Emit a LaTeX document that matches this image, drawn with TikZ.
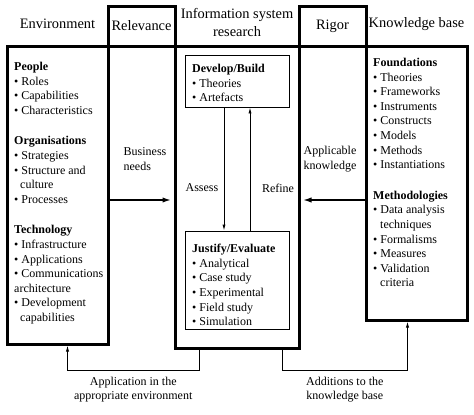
\documentclass[tikz,border=0pt]{standalone}
\usepackage{fontspec}
\setmainfont{Liberation Serif}
\usetikzlibrary{positioning, arrows.meta}

\begin{document}
\begin{tikzpicture}[
    x=1pt, y=-1pt,
    bigbox/.style={draw, line width=3pt, inner sep=0pt},
    smallbox/.style={draw, line width=0.9pt, inner sep=0pt},
    header/.style={font=\fontsize{14.4}{18}\selectfont, align=center, inner sep=0pt},
    listtext/.style={font=\fontsize{12}{14.6}\selectfont, align=left, inner sep=0pt, anchor=north west},
    midtext/.style={font=\fontsize{12}{14.6}\selectfont, align=left, inner sep=0pt},
    flow/.style={-{Latex[length=11pt, width=5pt]}, line width=2.5pt},
    thinflow/.style={-{Latex[length=6pt, width=3.2pt]}, line width=0.9pt}
]
    \useasboundingbox (0,0) rectangle (474,415);

    % Column headers
    \node[header] (envhead) at (57.5,24) {Environment};
    \node[bigbox, header, minimum width=67pt, minimum height=40pt] (relhead) at (141.5,26) {Relevance};
    \node[header] (isrhead) at (237,23) {Information system\\research};
    \node[bigbox, header, minimum width=67pt, minimum height=40pt] (righead) at (332.5,26) {Rigor};
    \node[header] (kbhead) at (416.5,24) {Knowledge base};

    % Main boxes
    \node[bigbox, minimum width=101pt, minimum height=298pt] (env) at (57.5,195) {};
    \node[bigbox, minimum width=124pt, minimum height=302pt] (isr) at (237,197) {};
    \node[bigbox, minimum width=101pt, minimum height=274pt] (kb) at (416.5,183) {};

    % Research activities
    \node[smallbox, minimum width=104pt, minimum height=52pt] (dev) at (237,81) {};
    \node[smallbox, minimum width=104pt, minimum height=98pt] (just) at (237,280) {};

    % Box contents
    \node[listtext] (envlist) at (14,62) {\textbf{People}\\• Roles\\• Capabilities\\• Characteristics\\[16pt]
        \textbf{Organisations}\\• Strategies\\• Structure and\\\hspace*{6pt}culture\\• Processes\\[16pt]
        \textbf{Technology}\\• Infrastructure\\• Applications\\• Communications\\architecture\\• Development\\\hspace*{6pt}capabilities};
    \node[listtext] (kblist) at (373,58) {\textbf{Foundations}\\• Theories\\• Frameworks\\• Instruments\\• Constructs\\• Models\\• Methods\\• Instantiations\\[16pt]
        \textbf{Methodologies}\\• Data analysis\\\hspace*{7pt}techniques\\• Formalisms\\• Measures\\• Validation\\\hspace*{7pt}criteria};
    \node[listtext] (devlist) at (192,64) {\textbf{Develop/Build}\\• Theories\\• Artefacts};
    \node[listtext] (justlist) at (192,244) {\textbf{Justify/Evaluate}\\• Analytical\\• Case study\\• Experimental\\• Field study\\• Simulation};

    % Relevance and rigor cycles
    \draw[flow] ([yshift=-5pt]env.east) -- ([yshift=-5pt]env.east -| isr.west);
    \draw[flow] ([yshift=-17pt]kb.west) -- ([yshift=-17pt]kb.west -| isr.east);
    \node[midtext] (needs) at (145,159) {Business\\needs};
    \node[midtext] (applic) at (330,159) {Applicable\\knowledge};

    % Design cycle
    \draw[thinflow] ([xshift=-13pt]dev.south) -- ([xshift=-13pt]dev.south |- just.north);
    \draw[thinflow] ([xshift=13pt]just.north) -- ([xshift=13pt]just.north |- dev.south);
    \node[midtext] (assess) at (202,188) {Assess};
    \node[midtext] (refine) at (278,188) {Refine};

    % Feedback to environment and knowledge base
    \draw[thinflow] ([xshift=-38pt]isr.south) -- ++(0,21) -| node[pos=0.25, below=6pt, midtext, align=center] (appl) {Application in the\\appropriate environment} ([xshift=10pt]env.south);
    \draw[thinflow] ([xshift=45pt]isr.south) -- ++(0,21) -| node[pos=0.25, below=6pt, midtext, align=center] (add) {Additions to the\\knowledge base} ([xshift=-9pt]kb.south);
\end{tikzpicture}
\end{document}
